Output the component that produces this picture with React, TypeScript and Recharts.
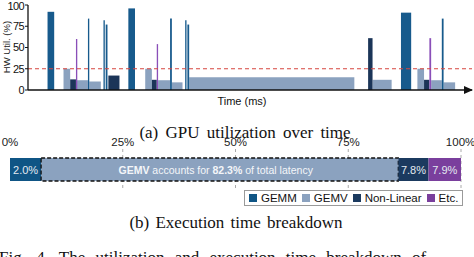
import {
  ComposedChart,
  BarChart,
  Bar,
  Line,
  XAxis,
  YAxis,
  ReferenceArea,
  ReferenceLine,
  CartesianGrid,
  LabelList,
  Legend,
  Label,
} from 'recharts';

// kernel trace (time in % of the run, util in %)
const kernelType = [
  'GEMM', 'GEMV', 'Non-Linear', 'Etc.', 'GEMV', 'GEMM', 'GEMV', 'GEMM', 'GEMM', 'Non-Linear',
  'GEMM', 'GEMV', 'Non-Linear', 'Etc.', 'GEMV', 'GEMM', 'GEMV', 'GEMM', 'GEMM', 'GEMV',
  'Non-Linear', 'GEMV', 'GEMM', 'GEMV', 'Non-Linear', 'Etc.', 'GEMV', 'GEMM', 'GEMV',
];
const kernelStart = [
  4.4, 8.0, 9.5, 10.8, 11.0, 13.5, 13.8, 17.0, 17.5, 18.1,
  22.6, 26.4, 27.9, 29.0, 29.3, 32.0, 32.4, 35.4, 35.9, 36.3,
  76.6, 77.6, 84.0, 87.7, 89.2, 90.4, 90.8, 93.2, 93.6,
];
const kernelEnd = [
  5.9, 9.5, 10.8, 11.1, 13.5, 13.8, 16.4, 17.3, 17.9, 20.6,
  24.1, 27.9, 29.0, 29.3, 32.0, 32.4, 34.8, 35.7, 36.3, 73.5,
  77.6, 81.9, 86.3, 89.2, 90.4, 90.8, 93.2, 93.6, 96.2,
];
const kernelUtil = [
  92, 25, 12.5, 60, 11.5, 84, 10, 82, 77, 17,
  96, 25, 12, 54, 11.5, 84, 9, 82, 77, 15,
  61, 12, 91, 25, 12, 61, 11.5, 84, 9,
];
const utilTicks = [0, 25, 50, 75, 100];
const utilTarget = 25;

// execution time breakdown
const categories = ['GEMM', 'GEMV', 'Non-Linear', 'Etc.'];
const shareDrawn = [6.9, 79.2, 6.7, 7.2];
const shareLabels = ['2.0%', '82.3%', '7.8%', '7.9%'];
const shareTicks = [0, 25, 50, 75, 100];

const barColors: Record<string, string> = {
  GEMM: '#0f5585',
  GEMV: '#8ba2bf',
  'Non-Linear': '#1b3a5f',
  'Etc.': '#7a3f9d',
};
const traceColors: Record<string, string> = {
  GEMM: '#175a8c',
  GEMV: '#8ba2bf',
  'Non-Linear': '#1b3558',
  'Etc.': '#8a4fb8',
};
const drawOrder = ['GEMV', 'Non-Linear', 'GEMM', 'Etc.'];

const sans = "'Liberation Sans', Arial, sans-serif";
const serif = "'Liberation Serif', 'Times New Roman', serif";

const traceRows = kernelStart.map((t, i) => ({ t, util: kernelUtil[i] }));
const breakdownRow = [
  categories.reduce((row: any, c, i) => ({ ...row, [c]: shareDrawn[i] }), { name: 'latency' }),
];

const SegmentLabel = (props: any, idx: number) => {
  const { x, y, width, height } = props;
  const cx = x + width / 2;
  const cy = y + height / 2;
  if (categories[idx] === 'GEMV') {
    return (
      <text x={cx - 4} y={cy} textAnchor="middle" dominantBaseline="central" fontSize={10.5} fill="#f4f6f9" fontFamily={sans}>
        <tspan fontWeight="bold">GEMV</tspan>
        <tspan> accounts for </tspan>
        <tspan fontWeight="bold">{shareLabels[idx]}</tspan>
        <tspan> of total latency</tspan>
      </text>
    );
  }
  return (
    <text x={cx} y={cy} textAnchor="middle" dominantBaseline="central" fontSize={11} fill="#e4eaf1" fontFamily={sans}>
      {shareLabels[idx]}
    </text>
  );
};

const renderLegend = () => (
  <div
    style={{
      display: 'flex',
      alignItems: 'center',
      gap: 5,
      border: '1px solid #9a9a9a',
      background: '#fff',
      padding: '1px 4px',
      fontFamily: sans,
      fontSize: 11.5,
      color: '#111',
      whiteSpace: 'nowrap',
    }}
  >
    {categories.map((c) => (
      <span key={c} style={{ display: 'flex', alignItems: 'center', gap: 4 }}>
        <span style={{ width: 8, height: 8, background: barColors[c], display: 'inline-block' }} />
        {c}
      </span>
    ))}
  </div>
);

export default function App() {
  const order = drawOrder.flatMap((t) =>
    kernelType.map((k, i) => (k === t ? i : -1)).filter((i) => i >= 0),
  );

  return (
    <div style={{ position: 'absolute', left: 0, top: 0, width: 474, height: 257, background: '#fff', overflow: 'hidden' }}>
      <div style={{ position: 'absolute', left: 0, top: 0 }}>
        <ComposedChart width={474} height={110} margin={{ top: 5, right: 2, bottom: 0, left: 0 }} data={traceRows}>
          <defs>
            <marker id="arrowhead" markerUnits="userSpaceOnUse" markerWidth={9} markerHeight={8} refX={8} refY={4} orient="auto">
              <path d="M0,0 L9,4 L0,8 z" fill="#111" />
            </marker>
          </defs>
          <XAxis
            type="number"
            dataKey="t"
            domain={[0, 100]}
            allowDataOverflow
            tick={false}
            tickLine={false}
            height={20}
            axisLine={{ stroke: '#111', strokeWidth: 1.4, markerEnd: 'url(#arrowhead)' } as any}
          >
            <Label value="Time (ms)" position="insideBottom" offset={5} dx={-8} fontSize={11} fill="#111" fontFamily={sans} />
          </XAxis>
          <YAxis
            type="number"
            domain={[0, 100]}
            ticks={utilTicks}
            allowDataOverflow
            width={28}
            tickSize={3}
            tickMargin={1}
            tick={{ fontSize: 11, fill: '#111', fontFamily: sans, letterSpacing: -0.6 }}
            axisLine={{ stroke: '#111', strokeWidth: 1.3 }}
            tickLine={{ stroke: '#111' }}
          >
            <Label
              content={() => (
                <text x={6} y={47} transform="rotate(-90 6 47)" textAnchor="middle" dominantBaseline="central" fontSize={9.5} fill="#222" fontFamily={sans}>
                  HW Util. (%)
                </text>
              )}
            />
          </YAxis>
          <Line dataKey="util" stroke="none" dot={false} activeDot={false} isAnimationActive={false} legendType="none" />
          <ReferenceLine y={utilTarget} stroke="#d6453f" strokeDasharray="4 3" strokeWidth={1.2} />
          {order.map((i) => (
            <ReferenceArea
              key={i}
              x1={kernelStart[i]}
              x2={kernelEnd[i]}
              y1={0}
              y2={kernelUtil[i]}
              fill={traceColors[kernelType[i]]}
              fillOpacity={1}
              stroke="none"
            />
          ))}
        </ComposedChart>
      </div>

      <div style={{ position: 'absolute', left: 0, top: 124, width: 490, textAlign: 'center', fontFamily: serif, fontSize: 17, lineHeight: '18px', color: '#111', wordSpacing: 3 }}>
        (a) GPU utilization over time
      </div>

      <div style={{ position: 'absolute', left: 0, top: 130 }}>
        <BarChart width={474} height={80} layout="vertical" data={breakdownRow} margin={{ top: 0, right: 13, bottom: 20, left: 10 }}>
          <CartesianGrid horizontal={false} stroke="#aaa" strokeDasharray="3 3" verticalValues={shareTicks as any} />
          <XAxis
            type="number"
            orientation="top"
            domain={[0, 100]}
            ticks={shareTicks}
            height={19}
            axisLine={false}
            tickLine={false}
            tickSize={0}
            tickMargin={3}
            tickFormatter={(v) => `${v}%`}
            tick={{ fontSize: 11.5, fill: '#222', fontFamily: sans }}
          />
          <YAxis type="category" dataKey="name" hide />
          {categories.map((c, i) => (
            <Bar
              key={c}
              dataKey={c}
              stackId="s"
              barSize={23}
              fill={barColors[c]}
              stroke={c === 'GEMV' ? '#111' : 'none'}
              strokeDasharray={c === 'GEMV' ? '4 2' : undefined}
              strokeWidth={c === 'GEMV' ? 1.3 : 0}
              isAnimationActive={false}
            >
              <LabelList dataKey={c} content={(p: any) => SegmentLabel(p, i)} />
            </Bar>
          ))}
          <Legend
            verticalAlign="middle"
            layout="horizontal"
            content={renderLegend}
            wrapperStyle={{ left: 244, top: 60, width: 'auto' }}
          />
        </BarChart>
      </div>

      <div style={{ position: 'absolute', left: 0, top: 214, width: 472, textAlign: 'center', fontFamily: serif, fontSize: 17, lineHeight: '18px', color: '#111', wordSpacing: 2 }}>
        (b) Execution time breakdown
      </div>

      <div style={{ position: 'absolute', left: -1, top: 249, whiteSpace: 'nowrap', fontFamily: serif, fontSize: 17, lineHeight: '18px', color: '#111', wordSpacing: 6 }}>
        Fig. 4. The utilization and execution time breakdown of
      </div>
    </div>
  );
}
